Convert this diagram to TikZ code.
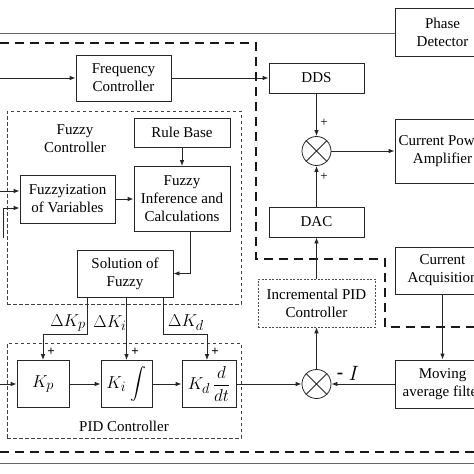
\documentclass[tikz,border=0pt]{standalone}
\usepackage{graphicx}
\usepackage{fontspec}
\setmainfont{Liberation Serif}
\usetikzlibrary{arrows.meta,calc}
\begin{document}
\begin{tikzpicture}[x=1pt,y=-1pt,
  txt/.style={font=\fontsize{15}{18}\selectfont, align=center, inner sep=0pt},
  box/.style={txt, draw=black!85, line width=0.8pt, rectangle},
  mth/.style={font=\fontsize{19}{22}\selectfont, inner sep=0pt},
  sumj/.style={draw=black!85, line width=0.8pt, circle, minimum size=29pt, inner sep=0pt},
  arr/.style={-{Latex[length=6pt,width=4.5pt]}, line width=0.8pt, draw=black!85},
  ln/.style={line width=0.8pt, draw=black!85},
  glines/.style={line width=1pt, draw=black!60},
  thickdash/.style={line width=2.3pt, dash pattern=on 9pt off 6pt, draw=black!90},
  fuzdash/.style={draw=black!75, line width=0.7pt, dash pattern=on 3.5pt off 2.5pt},
  dotbox/.style={txt, draw=black!70, line width=0.6pt, dash pattern=on 2pt off 1.5pt},
  plus/.style={font=\fontsize{13}{13}\selectfont, inner sep=0pt}
]
\useasboundingbox (0,0) rectangle (474,474);
\clip (0,0) rectangle (474,474);
\fill[white] (0,0) rectangle (474,474);

% containers
\node[fuzdash, minimum width=234pt, minimum height=193pt] (fzc) at (124,207.5) {};
\node[fuzdash, minimum width=234pt, minimum height=95pt] (pidc) at (124,390.5) {};
\node[txt] (fzlab) at (75,139) {Fuzzy\\Controller};
\node[txt] (pidlab) at (124,426) {PID Controller};

% boxes
\node[box, minimum width=95pt, minimum height=48pt] (phase) at (442.5,32) {Phase\\Detector};
\node[box, minimum width=95pt, minimum height=46pt] (freq) at (123.5,78) {Frequency\\Controller};
\node[box, minimum width=95pt, minimum height=30pt] (dds) at (316.5,78) {DDS};
\node[sumj] (s1) at (316.5,151) {};
\node[box, minimum width=95pt, minimum height=64pt] (cpa) at (442.5,151) {Current Power\\Amplifier};
\node[box, minimum width=95pt, minimum height=30pt] (dac) at (316.5,222) {DAC};
\node[box, minimum width=96pt, minimum height=29pt] (rule) at (182,132.5) {Rule Base};
\node[box, minimum width=96pt, minimum height=65pt] (finf) at (182,199) {Fuzzy\\Inference and\\Calculations};
\node[box, minimum width=95pt, minimum height=48pt] (fzif) at (67.5,199) {Fuzzyization\\of Variables};
\node[box, minimum width=96pt, minimum height=47pt] (sol) at (125,273.5) {Solution of\\Fuzzy};
\node[dotbox, minimum width=117pt, minimum height=48pt] (ipid) at (316.5,303) {Incremental PID\\Controller};
\node[box, minimum width=95pt, minimum height=47pt] (cacq) at (442.5,270.5) {Current\\Acquisition};
\node[box, minimum width=95pt, minimum height=48pt] (maf) at (442.5,384) {Moving\\average filter};
\node[sumj] (s2) at (316.5,384) {};
\node[box, mth, minimum width=52pt, minimum height=47pt] (kp) at (43,384) {$K_p$};
\node[box, mth, minimum width=51pt, minimum height=47pt] (ki) at (126.5,384) {$K_i\;\vcenter{\hbox{\resizebox*{!}{35pt}{$\displaystyle\int$}}}$};
\node[box, mth, minimum width=54pt, minimum height=47pt] (kd) at (209,384) {$K_d\,\displaystyle\frac{d}{dt}$};

% crosses in summing junctions
\draw[ln] (s1.north east) -- (s1.south west) (s1.north west) -- (s1.south east);
\draw[ln] (s2.north east) -- (s2.south west) (s2.north west) -- (s2.south east);

% boundary lines
\draw[glines] (0,33) -- (phase.west |- 0,33);
\draw[glines] (0,463) -- (474,463);
\draw[thickdash] (0,43) -- (256,43) -- (256,259) -- (385,259) -- (385,327) -- (474,327);
\draw[thickdash] (0,452) -- (474,452);

% free ends
\coordinate (inf) at (0,78);
\coordinate (in2) at (0,191);
\coordinate (in3) at (3,238);
\coordinate (inp) at (0,384);
\coordinate (bp) at (87,334);
\coordinate (bd) at (163,334);

% connectors
\draw[arr] (inf) -- (freq);
\draw[arr] (freq) -- (dds);
\draw[arr] (dds) -- (s1);
\draw[arr] (dac) -- (s1);
\draw[arr] (s1) -- (cpa);
\draw[arr] (ipid) -- (dac);
\draw[arr] (s2) -- (ipid);
\draw[arr] (cacq) -- (maf);
\draw[arr] (maf) -- (s2);
\draw[arr] (inp) -- (kp);
\draw[arr] (kp) -- (ki);
\draw[arr] (ki) -- (kd);
\draw[arr] (kd) -- (s2);
\draw[arr] (rule) -- (finf);
\draw[arr] (fzif) -- (finf);
\draw[arr] ($(finf.south)+(8,0)$) |- (sol.east);
\draw[arr] (in2) -- (in2 -| fzif.west);
\draw[arr] (in3) |- ($(fzif.west)+(0,9)$);
\draw[arr] (sol.south -| bp) -- (bp) -| (kp.north);
\draw[arr] (sol.south -| ki.north) -- (ki.north);
\draw[arr] (sol.south -| bd) -- (bd) -| ($(kd.north)+(-2,0)$);

% labels
\node[mth] (lkp) at (68,323) {$\Delta K_p$};
\node[mth] (lki) at (110,323) {$\Delta K_i$};
\node[mth] (lkd) at (186,323) {$\Delta K_d$};
\node[plus] (p1) at (324,123) {+};
\node[plus] (p2) at (324,177) {+};
\node[plus] (p3) at (51,352) {\textbf{+}};
\node[plus] (p4) at (135,352) {\textbf{+}};
\node[plus] (p5) at (215,352) {\textbf{+}};
\node[mth] (mi) at (340,376) {\textbf{-}};
\node[mth, font=\fontsize{21}{24}\selectfont] (li) at (354,373) {$I$};
\end{tikzpicture}
\end{document}
